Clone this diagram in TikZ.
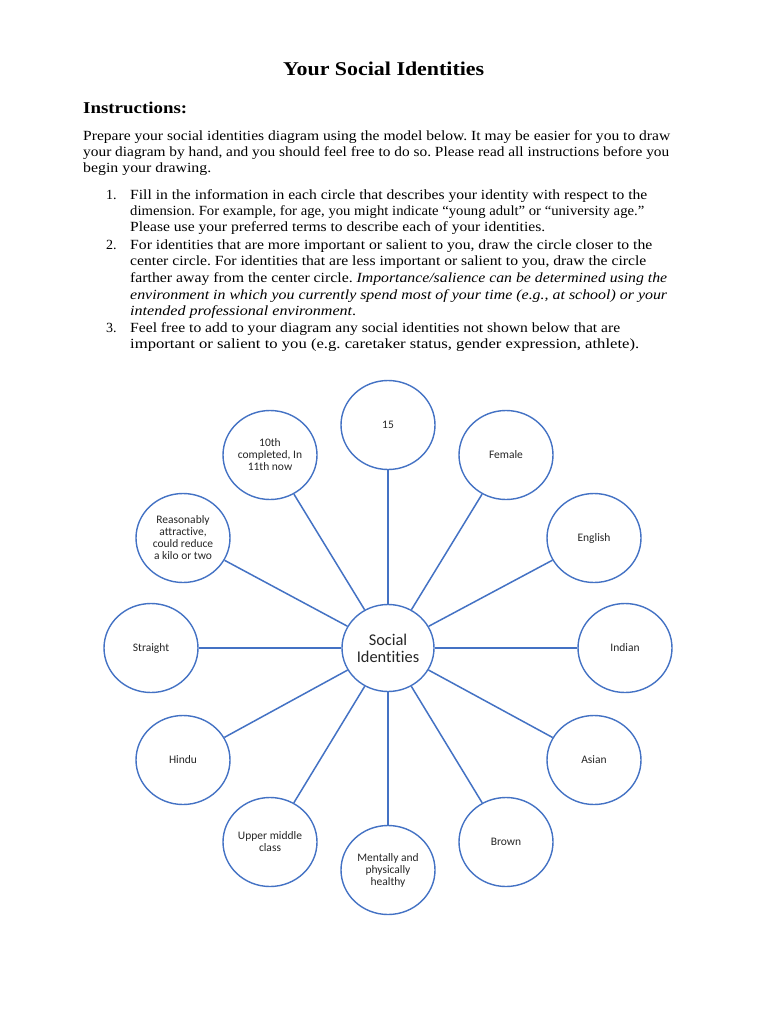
\documentclass[tikz,border=0pt]{standalone}
\usepackage{graphicx}
\usepackage{fontspec}
\setmainfont{Liberation Serif}
\newfontfamily\circfont[Ligatures=NoCommon]{Carlito}
\usetikzlibrary{positioning}
\usetikzlibrary{shapes.geometric}
\definecolor{idblue}{RGB}{68,114,196}
\tikzset{>=latex}
% one printed line, stretched to the width that it has in the form
\newcommand{\fitline}[2]{\resizebox{#1}{\height}{#2}}
\tikzstyle{idc} = [ellipse, draw=idblue, line width=1.4pt, fill=white, minimum width=94pt, minimum height=89pt, inner sep=0pt, align=center, text=black!85, font=\circfont\fontsize{11.5}{12}\selectfont]
\tikzstyle{spoke} = [-, draw=idblue, line width=1.5pt]
\tikzstyle{txt} = [anchor=base west, inner sep=0pt, font=\fontsize{14}{16}\selectfont]

\begin{document}
\frenchspacing
\begin{tikzpicture}[x=1pt, y=-1pt]
\useasboundingbox [fill=white] (0, 0) rectangle (768, 1024);
% heading
\node [inner sep=0pt, anchor=base west, font=\bfseries\fontsize{19.5}{22}\selectfont] (title) at (283, 76) {\fitline{201pt}{Your Social Identities}};
\node [txt, font=\bfseries\fontsize{16.5}{18}\selectfont] (instr) at (83, 114) {\fitline{104pt}{Instructions:}};
\node [txt] (p1) at (83, 141) {\fitline{587pt}{Prepare your social identities diagram using the model below. It may be easier for you to draw}};
\node [txt] (p2) at (83, 157) {\fitline{586pt}{your diagram by hand, and you should feel free to do so. Please read all instructions before you}};
\node [txt] (p3) at (83, 173) {\fitline{128pt}{begin your drawing.}};
% numbered list
\node [txt] (n1) at (106, 200) {1.};
\node [txt] (n2) at (106, 249) {2.};
\node [txt] (n3) at (106, 332) {3.};
\node [txt] (l1) at (130, 200) {\fitline{517pt}{Fill in the information in each circle that describes your identity with respect to the}};
\node [txt] (l2) at (130, 216) {\fitline{514pt}{dimension. For example, for age, you might indicate “young adult” or “university age.”}};
\node [txt] (l3) at (130, 232) {\fitline{415pt}{Please use your preferred terms to describe each of your identities.}};
\node [txt] (l4) at (130, 249) {\fitline{522pt}{For identities that are more important or salient to you, draw the circle closer to the}};
\node [txt] (l5) at (130, 265) {\fitline{516pt}{center circle. For identities that are less important or salient to you, draw the circle}};
\node [txt] (l6) at (130, 282) {\fitline{537pt}{farther away from the center circle. \textit{Importance/salience can be determined using the}}};
\node [txt] (l7) at (130, 299) {\fitline{537pt}{\textit{environment in which you currently spend most of your time (e.g., at school) or your}}};
\node [txt] (l8) at (130, 315) {\fitline{226pt}{\textit{intended professional environment}.}};
\node [txt] (l9) at (130, 332) {\fitline{490pt}{Feel free to add to your diagram any social identities not shown below that are}};
\node [txt] (l10) at (130, 348) {\fitline{509pt}{important or salient to you (e.g. caretaker status, gender expression, athlete).}};
% diagram
\node [idc, minimum width=92pt, minimum height=87pt, font=\circfont\fontsize{16.4}{17}\selectfont] (C) at (388, 648) {Social\\Identities};
\node [idc] (age) at (388, 425) {15};
\node [idc] (edu) at (270, 455) {10th\\completed, In\\11th now};
\node [idc] (gen) at (506, 455) {Female};
\node [idc] (look) at (183, 538) {Reasonably\\attractive,\\could reduce\\a kilo or two};
\node [idc] (lang) at (594, 538) {English};
\node [idc] (sex) at (151, 648) {Straight};
\node [idc] (nat) at (625, 648) {Indian};
\node [idc] (rel) at (183, 760) {Hindu};
\node [idc] (race) at (594, 760) {Asian};
\node [idc] (cls) at (270, 842) {Upper middle\\class};
\node [idc] (col) at (506, 842) {Brown};
\node [idc] (hlt) at (388, 870) {Mentally and\\physically\\healthy};
\foreach \n in {age, edu, gen, look, lang, sex, nat, rel, race, cls, col, hlt}
  \draw [spoke] (C) to (\n);
\end{tikzpicture}
\end{document}
